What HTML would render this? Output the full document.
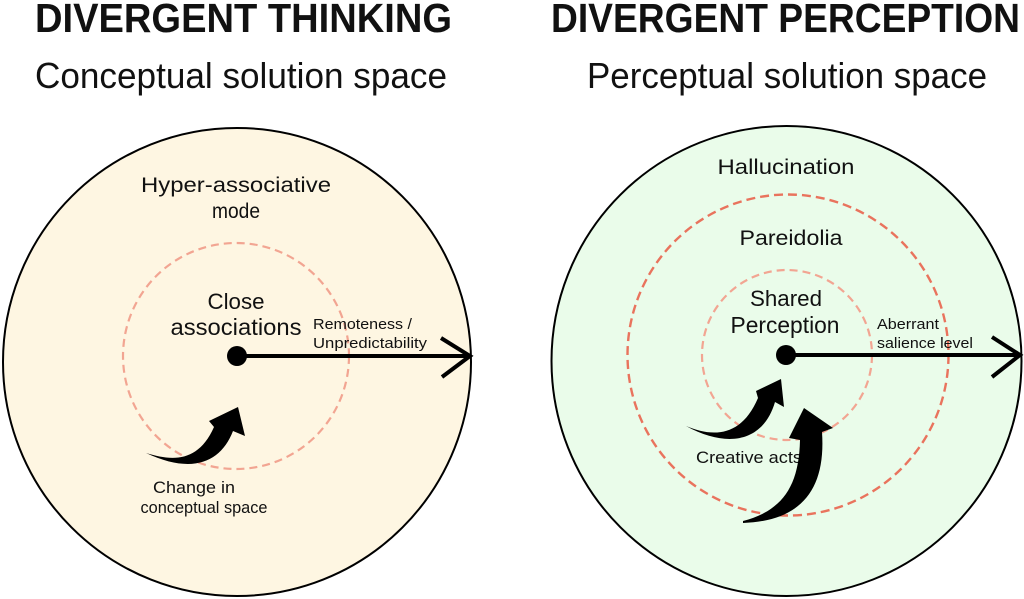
<!DOCTYPE html>
<html>
<head>
<meta charset="utf-8">
<style>
  html, body { margin:0; padding:0; background:#fff; }
  svg { display:block; }
  text { font-family: "Liberation Sans", "DejaVu Sans", sans-serif; fill:#111; }
</style>
</head>
<body>
<svg width="1024" height="599" viewBox="0 0 1024 599" xmlns="http://www.w3.org/2000/svg">
  <!-- Titles -->
  <text x="35" y="32" font-size="41" font-weight="700" textLength="417" lengthAdjust="spacingAndGlyphs">DIVERGENT THINKING</text>
  <text x="35" y="88" font-size="36" textLength="412" lengthAdjust="spacingAndGlyphs">Conceptual solution space</text>
  <text x="551" y="32" font-size="41" font-weight="700" textLength="469" lengthAdjust="spacingAndGlyphs">DIVERGENT PERCEPTION</text>
  <text x="587" y="88" font-size="36" textLength="400" lengthAdjust="spacingAndGlyphs">Perceptual solution space</text>

  <!-- Left circle -->
  <circle cx="237" cy="362" r="234" fill="#FEF6E2" stroke="#000" stroke-width="2"/>
  <circle cx="236" cy="356" r="113" fill="none" stroke="#F2A592" stroke-width="2.2" stroke-dasharray="8 5"/>

  <!-- Right circle -->
  <circle cx="786.5" cy="361" r="235" fill="#EAFCEA" stroke="#000" stroke-width="2"/>
  <circle cx="788" cy="355" r="160.5" fill="none" stroke="#E9735D" stroke-width="2.4" stroke-dasharray="9 5"/>
  <circle cx="787" cy="355" r="85" fill="none" stroke="#F2A592" stroke-width="2.2" stroke-dasharray="8 5"/>

  <!-- Left labels -->
  <text x="236" y="192" font-size="21" text-anchor="middle" textLength="190" lengthAdjust="spacingAndGlyphs">Hyper-associative</text>
  <text x="236" y="218" font-size="21" text-anchor="middle" textLength="48" lengthAdjust="spacingAndGlyphs">mode</text>
  <text x="236" y="309" font-size="22" text-anchor="middle" textLength="57" lengthAdjust="spacingAndGlyphs">Close</text>
  <text x="236" y="335" font-size="23" text-anchor="middle" textLength="131" lengthAdjust="spacingAndGlyphs">associations</text>
  <text x="313" y="329" font-size="15" textLength="99" lengthAdjust="spacingAndGlyphs">Remoteness /</text>
  <text x="313" y="348" font-size="15" textLength="114" lengthAdjust="spacingAndGlyphs">Unpredictability</text>
  <text x="194" y="493" font-size="17" text-anchor="middle" textLength="82" lengthAdjust="spacingAndGlyphs">Change in</text>
  <text x="204" y="513" font-size="17" text-anchor="middle" textLength="127" lengthAdjust="spacingAndGlyphs">conceptual space</text>

  <!-- Right labels -->
  <text x="786" y="174" font-size="21" text-anchor="middle" textLength="137" lengthAdjust="spacingAndGlyphs">Hallucination</text>
  <text x="791" y="245" font-size="21" text-anchor="middle" textLength="103" lengthAdjust="spacingAndGlyphs">Pareidolia</text>
  <text x="786" y="306" font-size="22" text-anchor="middle" textLength="72" lengthAdjust="spacingAndGlyphs">Shared</text>
  <text x="785" y="333" font-size="23" text-anchor="middle" textLength="109" lengthAdjust="spacingAndGlyphs">Perception</text>
  <text x="877" y="329" font-size="15" textLength="62" lengthAdjust="spacingAndGlyphs">Aberrant</text>
  <text x="877" y="348" font-size="15" textLength="96" lengthAdjust="spacingAndGlyphs">salience level</text>
  <text x="696" y="463" font-size="17" textLength="106" lengthAdjust="spacingAndGlyphs">Creative acts</text>

  <!-- Left radial arrow -->
  <line x1="237" y1="356" x2="469" y2="356" stroke="#000" stroke-width="4"/>
  <polyline points="441,338 470,356 442,377" fill="none" stroke="#000" stroke-width="4"/>
  <circle cx="237" cy="356" r="10" fill="#000"/>

  <!-- Right radial arrow -->
  <line x1="786" y1="355" x2="1020" y2="355" stroke="#000" stroke-width="4"/>
  <polyline points="992,337 1020,355 992,377" fill="none" stroke="#000" stroke-width="4"/>
  <circle cx="786" cy="355" r="10" fill="#000"/>

  <!-- Curved arrows -->
  <path d="M146,453 C172,461 198,463 214,427 L209,421 L238,407 L245,436 L233,431 C221,462 193,475 146,453 Z" fill="#000"/>
  <path d="M686,426 C712,437 741,438 758,398 L756,391 L781,379 L784,407 L775,402 C764,440 730,450 686,426 Z" fill="#000"/>
  <path d="M743,521 C781,511 799,488 800,440 L789,438 L804,408 L833,428 L822,432 C826,490 801,521 743,523 Z" fill="#000"/>
</svg>
</body>
</html>
